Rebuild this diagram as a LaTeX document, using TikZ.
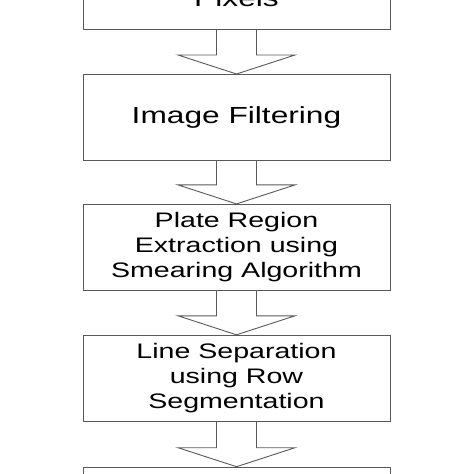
\documentclass[tikz,border=0pt]{standalone}
\usepackage{fontspec}
\setmainfont{Liberation Sans}[FakeStretch=1.36]
\usetikzlibrary{positioning,calc}

\tikzset{
  stage/.style={draw=black!65, line width=0.9pt, minimum width=307pt, minimum height=86pt,
    align=center, inner sep=0pt, font=\fontsize{21}{25}\selectfont},
  bigtext/.style={font=\fontsize{23.3}{28}\selectfont},
  blockarr/.style={draw=black!65, line width=0.9pt, line join=miter}
}
\newcommand{\blockarrow}[2]{%
  \draw[blockarr] ($(#1.south)+(-20pt,0)$) -- ($(#2.north)+(-20pt,19pt)$)
    -- ($(#2.north)+(-58.5pt,19pt)$) -- (#2.north) -- ($(#2.north)+(58.5pt,19pt)$)
    -- ($(#2.north)+(20pt,19pt)$) -- ($(#1.south)+(20pt,0)$);
}

\begin{document}
\begin{tikzpicture}
\useasboundingbox (0,0) rectangle (474pt,-474pt);
%nodes
\node[stage, bigtext, anchor=south, text height=63pt, text depth=23pt] (pixels) at (236.5pt,-30pt) {Pixels};
\node[stage, bigtext, below = 44pt of pixels] (filter) {Image Filtering};
\node[stage, below = 43pt of filter] (plate) {Plate Region\\Extraction using\\Smearing Algorithm};
\node[stage, below = 44pt of plate] (lineseg) {Line Separation\\using Row\\Segmentation};
\node[stage, below = 45pt of lineseg] (nextstage) {};
%arrows
\blockarrow{pixels}{filter}
\blockarrow{filter}{plate}
\blockarrow{plate}{lineseg}
\blockarrow{lineseg}{nextstage}
\end{tikzpicture}
\end{document}
